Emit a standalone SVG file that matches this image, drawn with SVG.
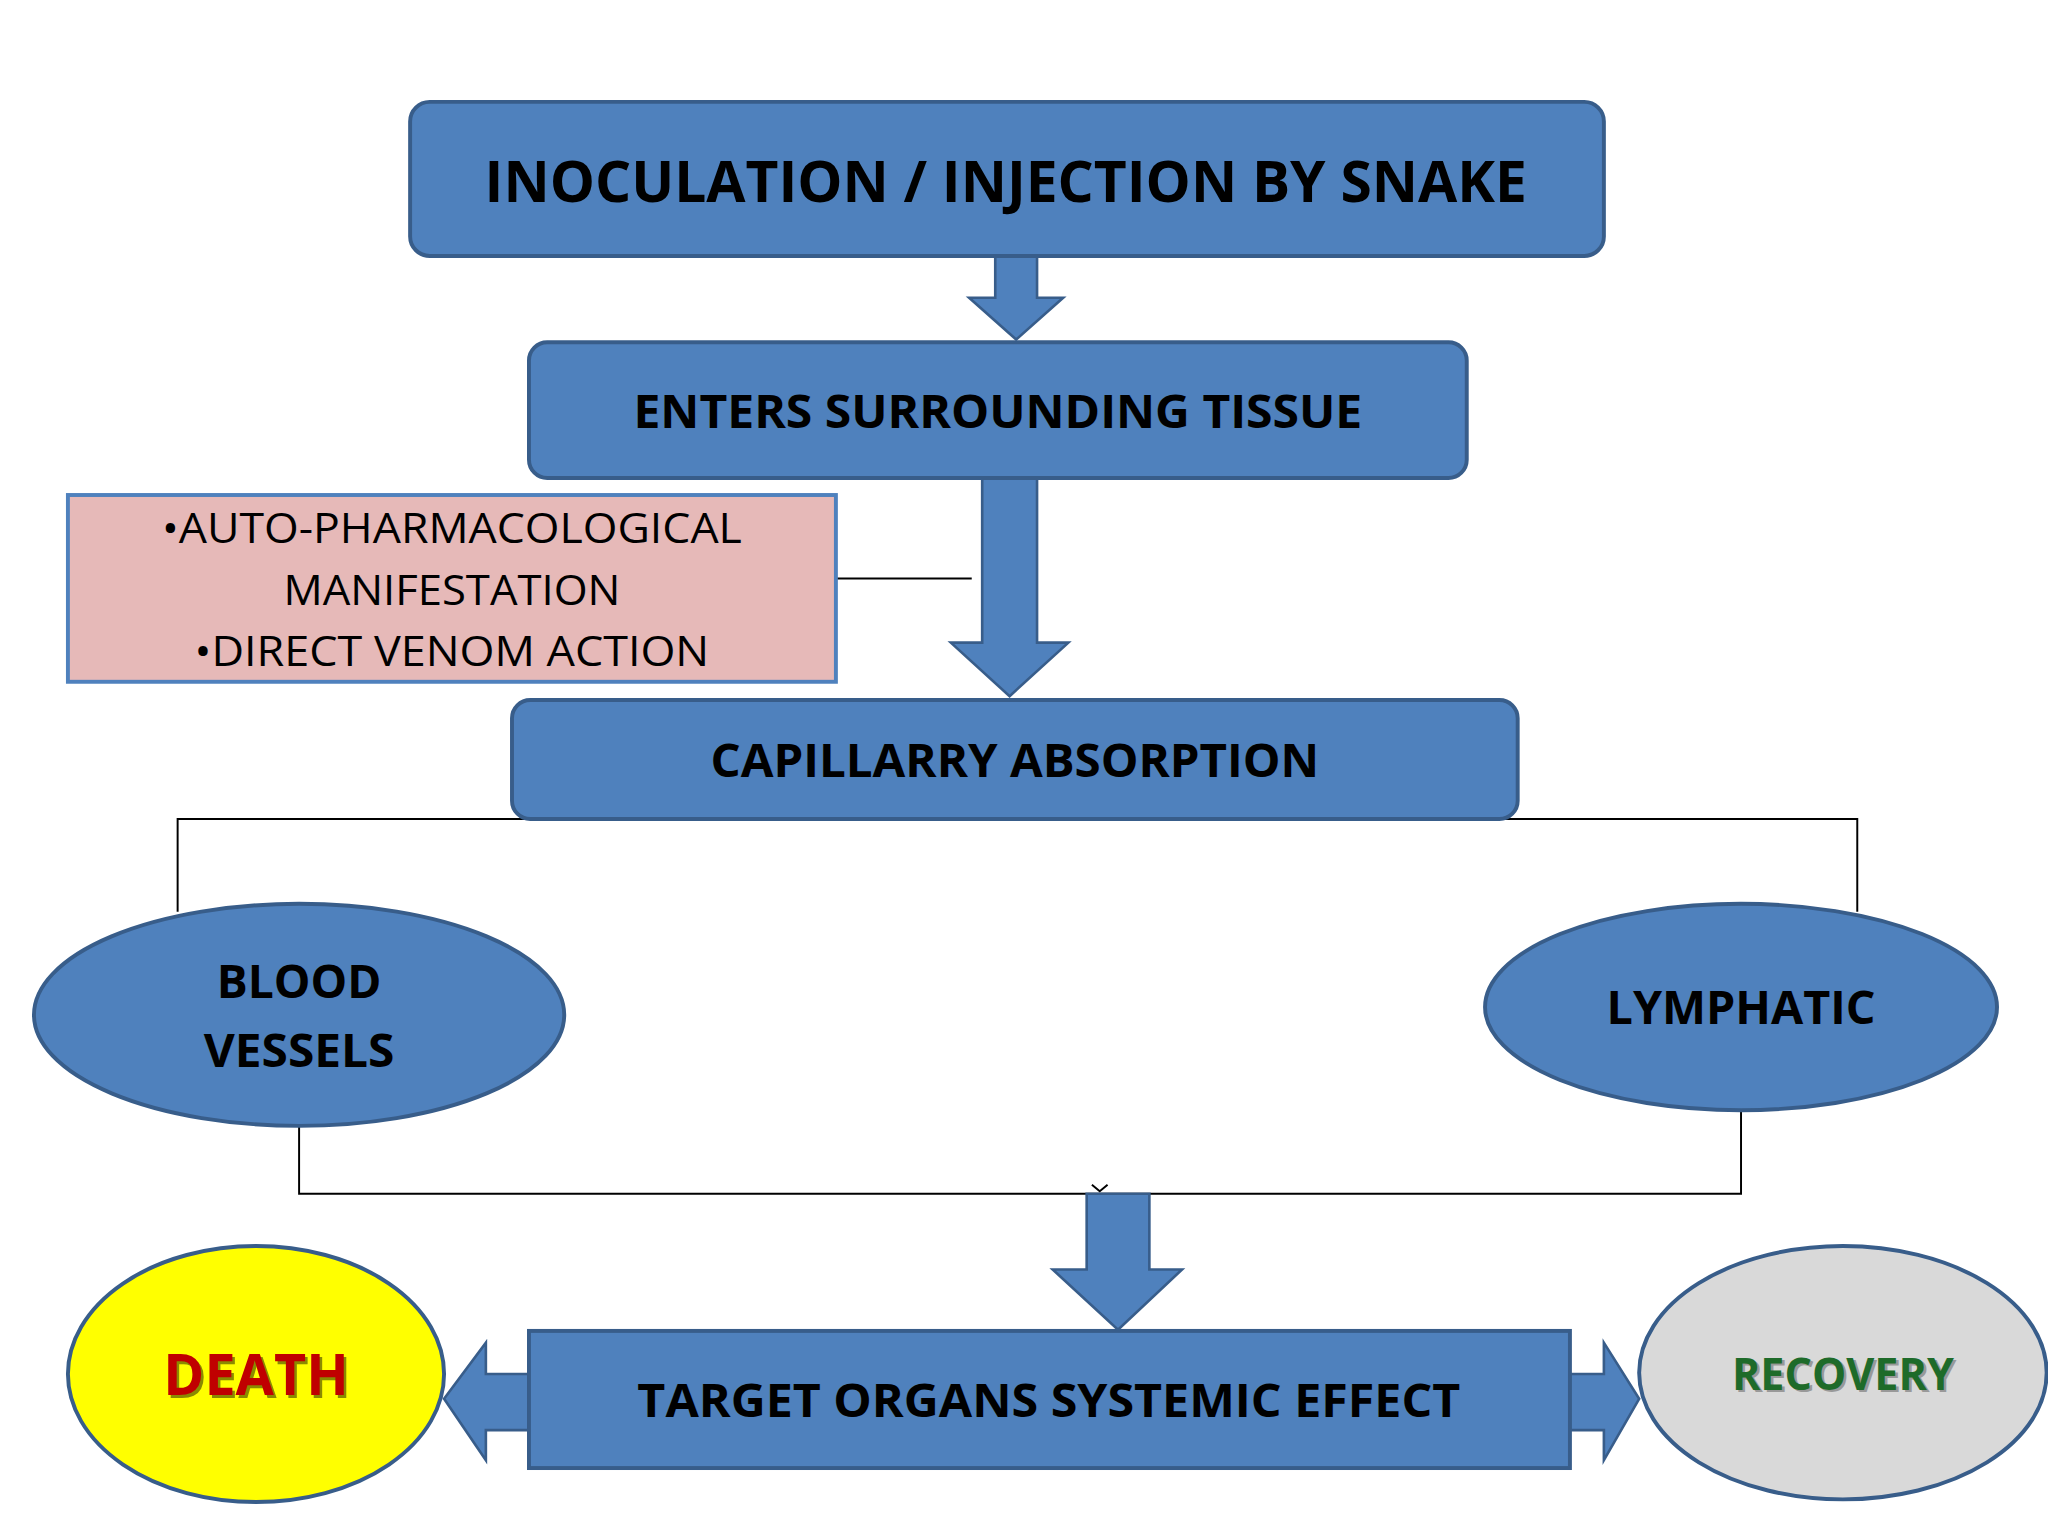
<svg xmlns="http://www.w3.org/2000/svg" width="2048" height="1536" viewBox="0 0 2048 1536">
<style>
.box{fill:#4f81bd;stroke:#385d8a;stroke-width:3}
.arr{fill:#4f81bd;stroke:#385d8a;stroke-width:2}
.t{font-family:"Open Sans","Liberation Sans",sans-serif;font-weight:bold;fill:#000;text-anchor:middle}
.n{font-family:"Open Sans","Liberation Sans",sans-serif;fill:#000;text-anchor:middle;font-size:32px}
.ln{fill:none;stroke:#000;stroke-width:1.5}
</style>
<rect width="2048" height="1536" fill="#fff"/>
<g transform="scale(1.3061)">
<g id="connectors">
<polygon class="arr" points="762,196 794,196 794,228 814,228 778,260 742,228 762,228"/>
<polygon class="arr" points="752,366 794,366 794,492 818,492 773,533 728,492 752,492"/>
<line class="ln" x1="640" y1="443" x2="744" y2="443"/>
<polyline class="ln" points="136,698 136,627 1422,627 1422,698"/>
<polyline class="ln" points="229,862 229,914 1333,914 1333,850"/>
<polyline class="ln" points="836,907 842,912 848,907"/>
<polygon class="arr" points="832,914 880,914 880,972 905,972 856,1018 806,972 832,972"/>
<polygon class="arr" points="405,1052 372,1052 372,1028 340,1071 372,1118 372,1095 405,1095"/>
<polygon class="arr" points="1202,1052 1228,1052 1228,1028 1255,1071 1228,1118 1228,1095 1202,1095"/>
</g>
<g id="n1"><rect class="box" x="314" y="78" width="914" height="118" rx="15"/><text class="t" x="770" y="155" font-size="44" textLength="798" lengthAdjust="spacingAndGlyphs">INOCULATION / INJECTION BY SNAKE</text></g>
<g id="n2"><rect class="box" x="405" y="262" width="718" height="104" rx="14"/><text class="t" x="764" y="328" font-size="36" textLength="558" lengthAdjust="spacingAndGlyphs">ENTERS SURROUNDING TISSUE</text></g>
<g id="note"><rect x="52" y="379" width="588" height="143" fill="#e6b9b8" stroke="#4f81bd" stroke-width="3"/>
<text class="n" x="346" y="416" textLength="444" lengthAdjust="spacingAndGlyphs">•AUTO-PHARMACOLOGICAL</text>
<text class="n" x="346" y="463" textLength="258" lengthAdjust="spacingAndGlyphs">MANIFESTATION</text>
<text class="n" x="346" y="510" textLength="394" lengthAdjust="spacingAndGlyphs">•DIRECT VENOM ACTION</text></g>
<g id="n3"><rect class="box" x="392" y="536" width="770" height="91" rx="14"/><text class="t" x="777" y="595" font-size="36" textLength="466" lengthAdjust="spacingAndGlyphs">CAPILLARRY ABSORPTION</text></g>
<g id="n4"><ellipse class="box" cx="229" cy="777" rx="203" ry="85"/><text class="t" x="229" y="764" font-size="36" textLength="126" lengthAdjust="spacingAndGlyphs">BLOOD</text><text class="t" x="229" y="817" font-size="36" textLength="146" lengthAdjust="spacingAndGlyphs">VESSELS</text></g>
<g id="n5"><ellipse class="box" cx="1333" cy="771" rx="196" ry="79"/><text class="t" x="1333" y="784" font-size="36" textLength="206" lengthAdjust="spacingAndGlyphs">LYMPHATIC</text></g>
<g id="n6"><rect class="box" x="405" y="1019" width="797" height="105"/><text class="t" x="803" y="1085" font-size="36" textLength="630" lengthAdjust="spacingAndGlyphs">TARGET ORGANS SYSTEMIC EFFECT</text></g>
<g id="n7"><ellipse cx="196" cy="1052" rx="144" ry="98" fill="#ffff00" stroke="#385d8a" stroke-width="3"/><text class="t" x="198" y="1070" font-size="44" fill="#777" style="fill:#8a8a00" textLength="142" lengthAdjust="spacingAndGlyphs">DEATH</text><text class="t" x="196" y="1068" font-size="44" style="fill:#c00000" textLength="142" lengthAdjust="spacingAndGlyphs">DEATH</text></g>
<g id="n8"><ellipse cx="1411" cy="1051" rx="156" ry="97" fill="#d9d9d9" stroke="#385d8a" stroke-width="3"/><text class="t" x="1413" y="1066" font-size="34" style="fill:#999" textLength="170" lengthAdjust="spacingAndGlyphs">RECOVERY</text><text class="t" x="1411" y="1064" font-size="34" style="fill:#1e6b2a" textLength="170" lengthAdjust="spacingAndGlyphs">RECOVERY</text></g>
</g>
</svg>
